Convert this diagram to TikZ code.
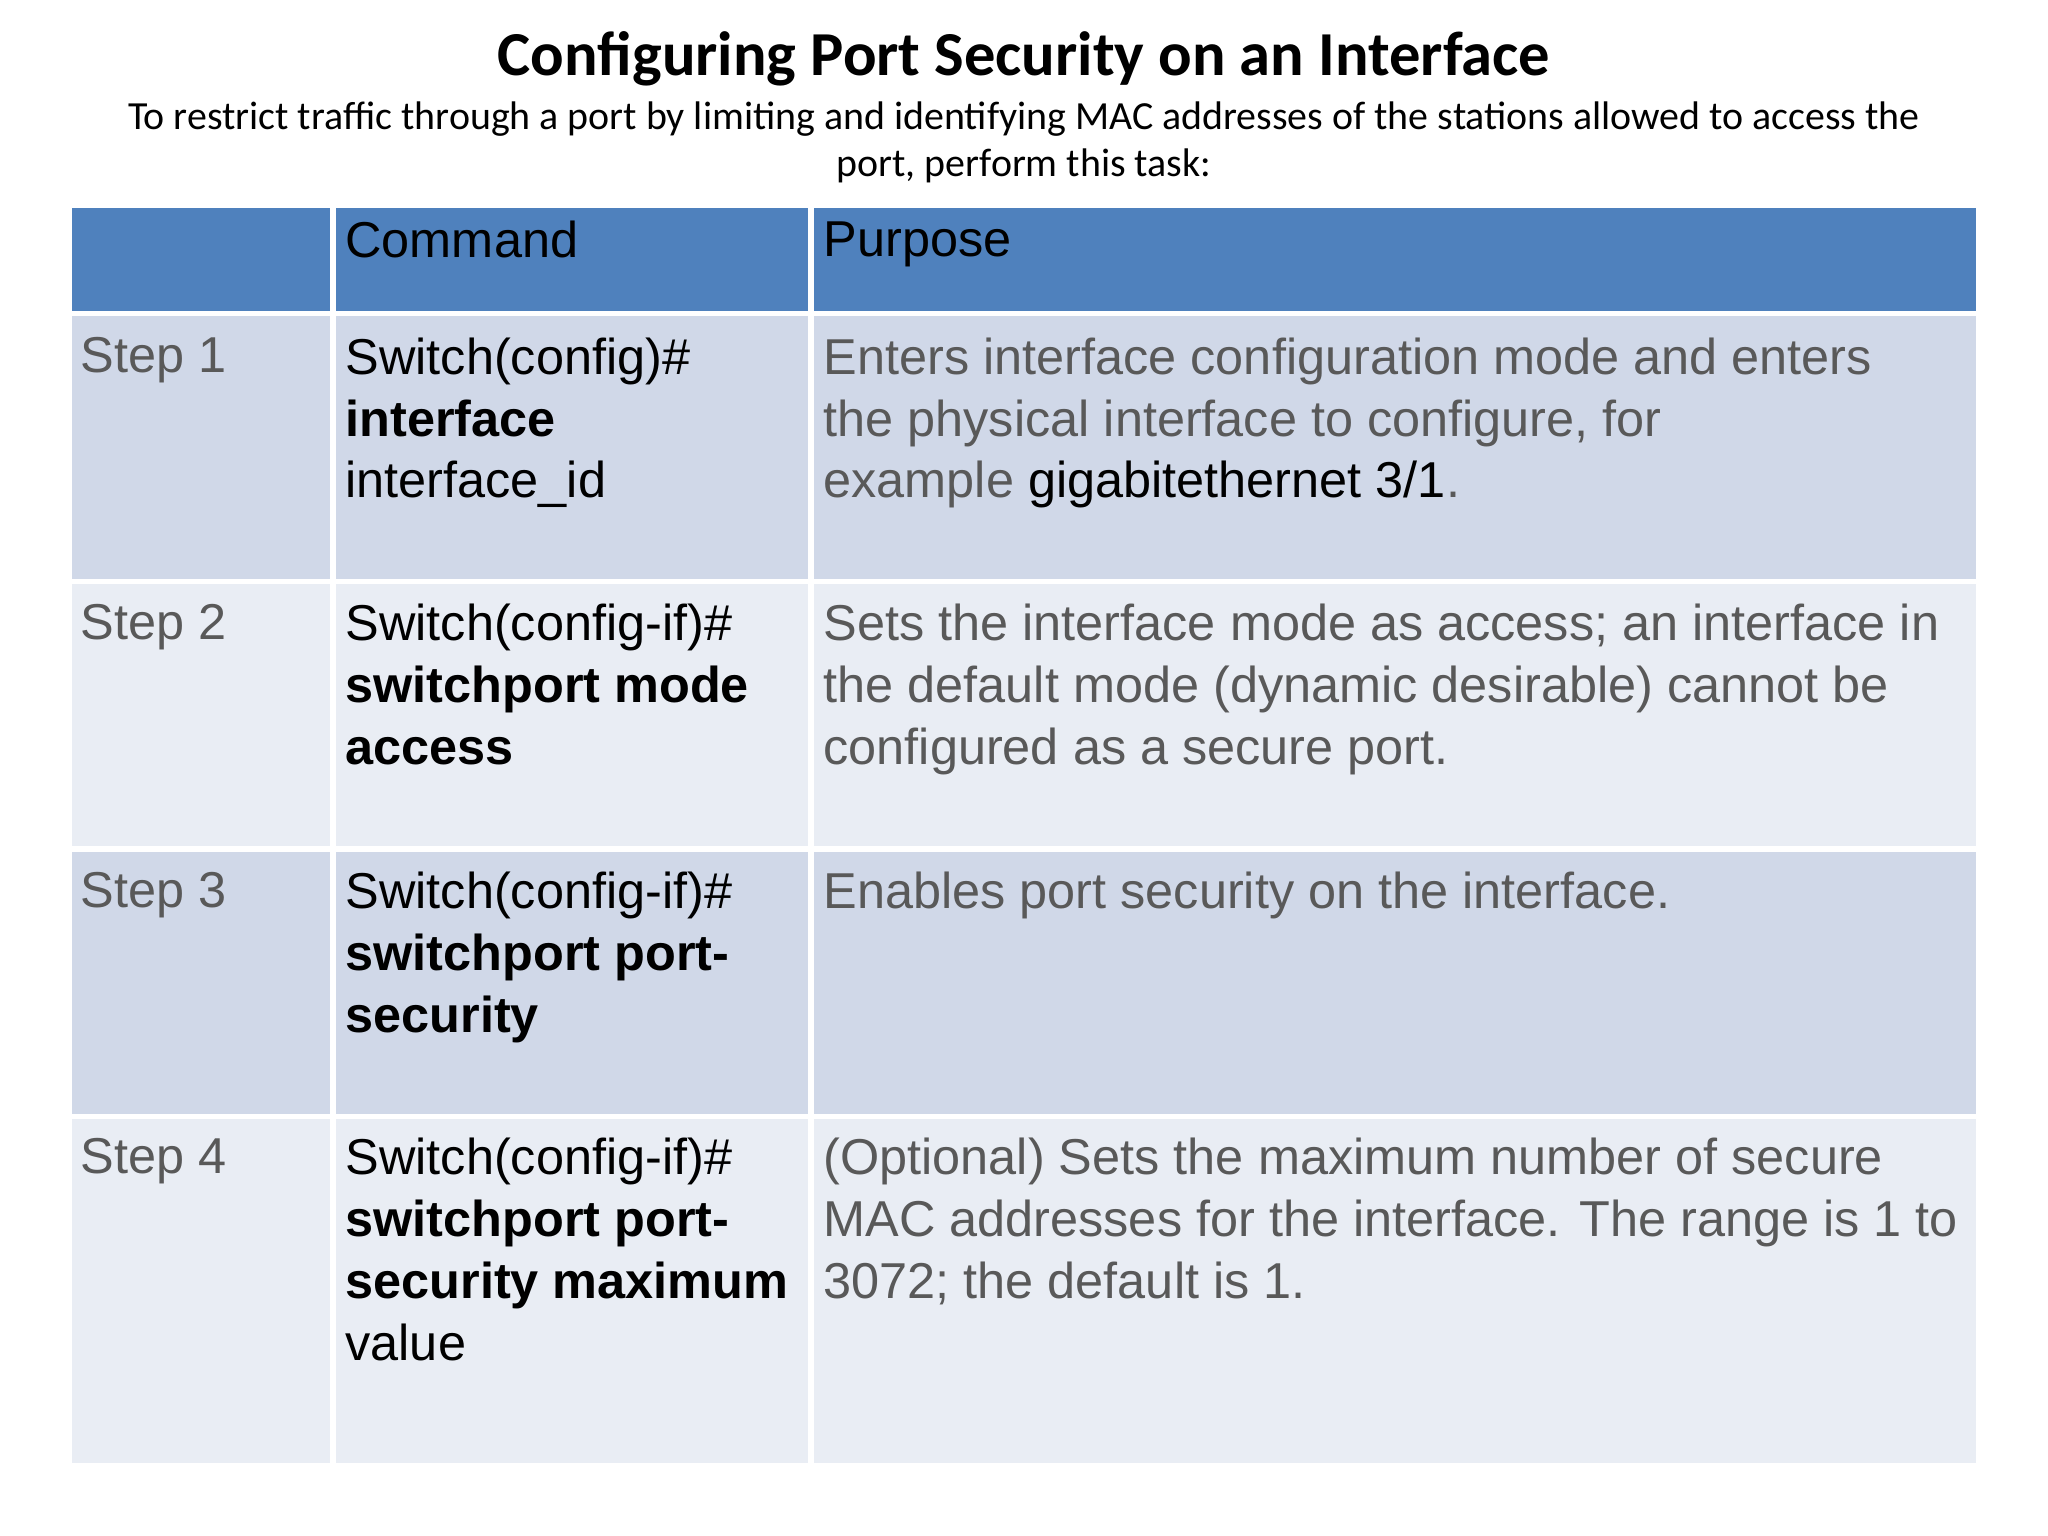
\documentclass[tikz,border=0pt]{standalone}
\usepackage{fontspec}
\setmainfont{Liberation Sans}
\newfontfamily\titlefont{Carlito}
\definecolor{hdrblue}{HTML}{4F81BD}
\definecolor{rowdark}{HTML}{D0D8E8}
\definecolor{rowlight}{HTML}{E9EDF4}
\definecolor{txtgray}{HTML}{595959}
\tikzset{
   cell/.style={fill=#1, draw=white, line width=1.5pt},
   celltext/.style={anchor=north west, inner sep=0pt, align=left,
      font=\fontsize{14.35}{17.6}\selectfont},
   steptext/.style={celltext, text=txtgray},
   cmdtext/.style={celltext},
   purptext/.style={celltext, text=txtgray},
}
\begin{document}
\begin{tikzpicture}[x=0.01306cm, y=-0.01306cm]
            \useasboundingbox (0,0) rectangle (1568,1176);
            \node[font=\titlefont\bfseries\fontsize{17.8}{20}\selectfont] (title) at (784,45) {Configuring Port Security on an Interface};
            \node[font=\titlefont\fontsize{11.35}{13.6}\selectfont, align=center] (sub) at (784,109) {To restrict traffic through a port by limiting and identifying MAC addresses of the stations allowed to access the\\port, perform this task:};
            % header and rows
            \draw[cell=hdrblue] (53,157) rectangle (255,240);
            \draw[cell=hdrblue] (255,157) rectangle (621,240);
            \draw[cell=hdrblue] (621,157) rectangle (1515,240);
            \foreach \ya/\yb/\c in {240/445/rowdark, 445/650/rowlight, 650/855/rowdark, 855/1122/rowlight}{
               \draw[cell=\c] (53,\ya) rectangle (255,\yb);
               \draw[cell=\c] (255,\ya) rectangle (621,\yb);
               \draw[cell=\c] (621,\ya) rectangle (1515,\yb);
            }
            \node[celltext] (hcmd) at (264,169) {Command};
            \node[celltext] (hpurp) at (630,169) {Purpose};
            \node[steptext] (s1) at (61,258) {Step 1};
            \node[steptext] (s2) at (61,462) {Step 2};
            \node[steptext] (s3) at (61,667) {Step 3};
            \node[steptext] (s4) at (61,871) {Step 4};
            \node[cmdtext] (c1) at (264,258) {Switch(config)\#\\\textbf{interface}\\interface\_id};
            \node[cmdtext] (c2) at (264,462) {Switch(config-if)\#\\\textbf{switchport mode}\\\textbf{access}};
            \node[cmdtext] (c3) at (264,667) {Switch(config-if)\#\\\textbf{switchport port-}\\\textbf{security}};
            \node[cmdtext] (c4) at (264,871) {Switch(config-if)\#\\\textbf{switchport port-}\\\textbf{security maximum}\\value};
            \node[purptext] (p1) at (630,258) {Enters interface configuration mode and enters\\the physical interface to configure, for\\example \textcolor{black}{gigabitethernet 3/1}.};
            \node[purptext] (p2) at (630,462) {Sets the interface mode as access; an interface in\\the default mode (dynamic desirable) cannot be\\configured as a secure port.};
            \node[purptext] (p3) at (630,667) {Enables port security on the interface.};
            \node[purptext] (p4) at (630,871) {(Optional) Sets the maximum number of secure\\MAC addresses for the interface. The range is 1 to\\3072; the default is 1.};
        \end{tikzpicture}
\end{document}
